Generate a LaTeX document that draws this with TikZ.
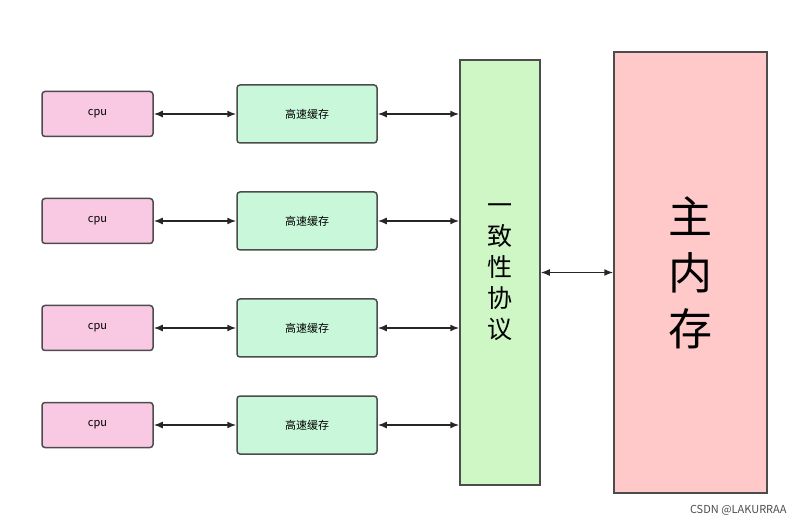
\documentclass[tikz,border=0pt]{standalone}
\usepackage{fontspec}
\setmainfont{Noto Sans CJK SC}
\usetikzlibrary{arrows.meta}
\definecolor{cpupink}{HTML}{F9C9E3}
\definecolor{cachegreen}{HTML}{C9F7DA}
\definecolor{protgreen}{HTML}{CFF7C6}
\definecolor{mempink}{HTML}{FFC9C9}
\begin{document}
\begin{tikzpicture}
[
x=1pt, y=-1pt,
cpu/.style={draw=black!70, fill=cpupink, rounded corners=3pt, line width=1.5pt, minimum width=111pt, minimum height=45pt, font=\fontsize{11}{11}\selectfont},
cache/.style={draw=black!70, fill=cachegreen, rounded corners=3pt, line width=1.5pt, minimum width=140pt, minimum height=58pt, font=\fontsize{11}{11}\selectfont},
bus/.style={draw=black!70, fill=protgreen, line width=1.5pt, minimum width=80pt, minimum height=425pt, font=\fontsize{25}{31}\selectfont, align=center},
mem/.style={draw=black!70, fill=mempink, line width=1.5pt, minimum width=153pt, minimum height=441pt, font=\fontsize{44}{56}\selectfont, align=center},
link/.style={{Latex[length=9pt,width=7pt]}-{Latex[length=9pt,width=7pt]}, line width=1.5pt, black!85}
]
\useasboundingbox (0,0) rectangle (803,526);
%Nodes
\node[bus] (proto) at (500,272.5) {一\\致\\性\\协\\议};
\node[mem] (mainmem) at (690.5,272.5) {主\\内\\存};
\foreach \i/\y in {1/114, 2/221, 3/328, 4/425} {
  \node[cpu]   (cpu\i)   at (97.5,\y) {cpu};
  \node[cache] (cache\i) at (307,\y) {高速缓存};
  \coordinate (port\i) at (proto.west |- cache\i.east);
  \draw[link] (cpu\i) -- (cache\i);
  \draw[link] (cache\i) -- (port\i);
}
\draw[link] (proto) -- (mainmem);
\node[anchor=east, font=\fontsize{11}{11}\selectfont, black!70] (mark) at (790,510) {CSDN @LAKURRAA};
\end{tikzpicture}
\end{document}
